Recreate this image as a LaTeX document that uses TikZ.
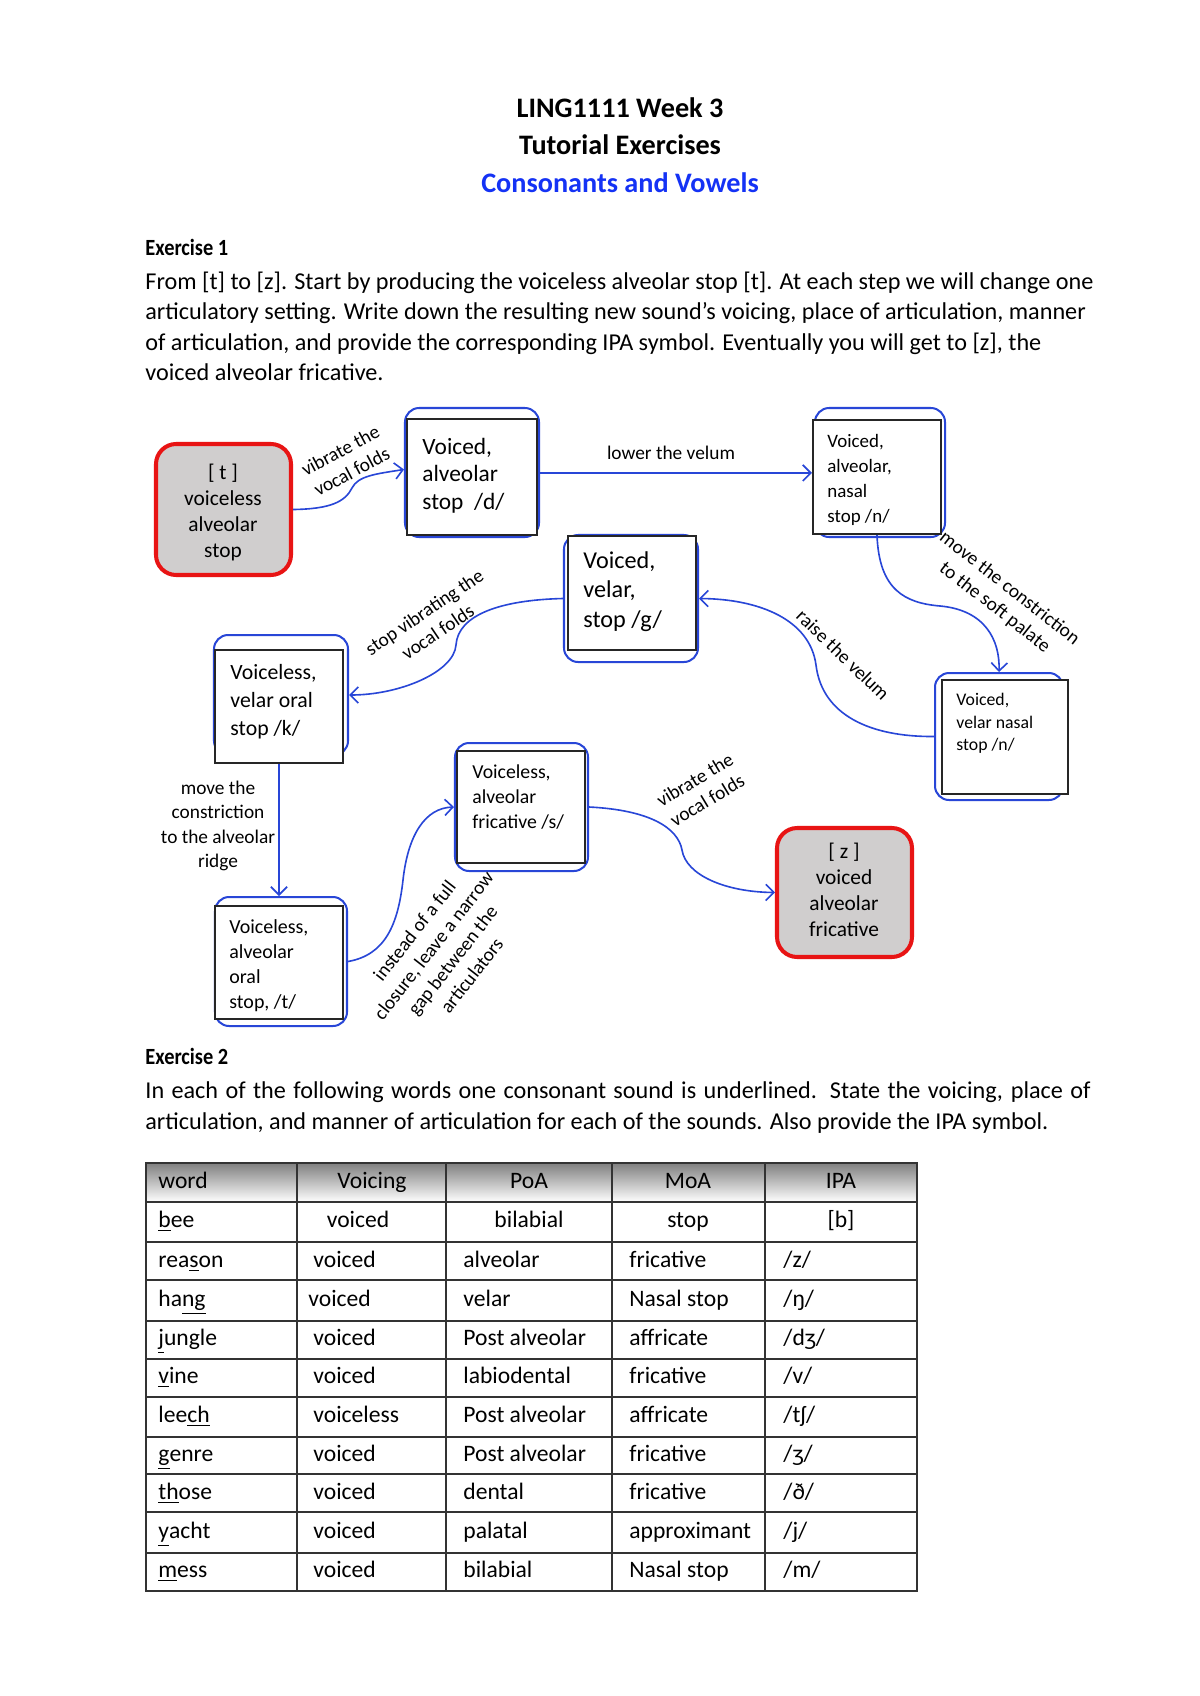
\documentclass[tikz,border=0pt]{standalone}
\usepackage{fontspec}
\usepackage{graphicx}
\setmainfont{Carlito}
\usetikzlibrary{arrows.meta,fit}
\definecolor{boxblue}{RGB}{40,70,215}
\definecolor{linkblue}{RGB}{40,70,215}
\definecolor{titleblue}{RGB}{20,50,245}
\definecolor{shade}{RGB}{208,206,206}
\definecolor{redline}{RGB}{232,20,20}
\newcommand\fsz[2]{\fontsize{#1pt}{#2pt}\selectfont}
\newcommand\ltrow[7]{%
  \node[cell,anchor=west] (w#1) at (158,#2) {#3};
  \node[cell,anchor=west] (v#1) at (313,#2) {#4};
  \node[cell,anchor=west] (p#1) at (463,#2) {#5};
  \node[cell,anchor=west] (m#1) at (629,#2) {#6};
  \node[cell,anchor=west] (i#1) at (783,#2) {#7};}
\begin{document}
\begin{tikzpicture}[x=0.49607pt,y=-0.49607pt,
  blueround/.style={draw=boxblue, line width=1pt, rounded corners=7pt, inner sep=0pt},
  blackbox/.style={draw=black!85, line width=1pt, fill=white, inner sep=0pt},
  redbox/.style={draw=redline, line width=2pt, rounded corners=10pt, fill=shade, inner sep=0pt},
  link/.style={draw=linkblue, line width=0.8pt, -{Straight Barb[length=4pt,width=8pt]}},
  boxtext/.style={inner sep=0pt, anchor=north west, align=left},
  lbl/.style={inner sep=0pt, align=center, font=\fsz{9.6}{12}},
  txt/.style={inner sep=0pt, text height=0.68em, text depth=0.2em},
  para/.style={txt, anchor=west, font=\fsz{12}{14}},
  head/.style={txt, anchor=west, font=\bfseries\fsz{11.5}{14}},
  cell/.style={txt, font=\fsz{11.7}{14}},
  tableline/.style={draw=black!80, line width=0.8pt}]
\fill[white] (0,0) rectangle (1200,1696);
\useasboundingbox (0,0) rectangle (1200,1696);

% ---- heading
\node[txt, font=\bfseries\fsz{14}{17}] (title1) at (620,113) {LING1111 Week 3};
\node[txt, font=\bfseries\fsz{14}{17}] (title2) at (620,150) {Tutorial Exercises};
\node[txt, font=\bfseries\fsz{14}{17}, text=titleblue] (title3) at (620,188) {Consonants and Vowels};

\node[head] (ex1) at (145,251) {\scalebox{0.88}[1]{Exercise 1}};
\node[para] (p1) at (145,285) {From [t] to [z]. Start by producing the voiceless alveolar stop [t]. At each step we will change one};
\node[para] (p2) at (145,315) {articulatory setting. Write down the resulting new sound’s voicing, place of articulation, manner};
\node[para] (p3) at (145,345.5) {of articulation, and provide the corresponding IPA symbol. Eventually you will get to [z], the};
\node[para] (p4) at (145,376) {voiced alveolar fricative.};

% ---- diagram boxes
\node[redbox, fit={(156,444) (291,575)}] (t) {};
\node[boxtext, anchor=north, align=center, font=\fsz{10.6}{12.9}] (ttxt) at (223,463.8) {[ t ]\\voiceless\\alveolar\\stop};

\node[blueround, fit={(405,408) (539,537)}] (dB) {};
\node[blackbox, fit={(407,419) (537,535)}] (d) {};
\node[boxtext, font=\fsz{11.6}{13.6}] (dtxt) at (422,437.6) {Voiced,\\alveolar\\stop\ \ /d/};

\node[blueround, fit={(815,408) (945,537)}] (anB) {};
\node[blackbox, fit={(813,420) (941,534)}] (an) {};
\node[boxtext, font=\fsz{9.4}{12.4}] (antxt) at (827,434.4) {Voiced,\\alveolar,\\nasal\\stop /n/};

\node[blueround, fit={(564,535) (698,662)}] (gB) {};
\node[blackbox, fit={(568,536) (696,650)}] (g) {};
\node[boxtext, font=\fsz{12}{14.6}] (gtxt) at (583,551.3) {Voiced,\\velar,\\stop /g/};

\node[blueround, fit={(935,673) (1063,800)}] (vnB) {};
\node[blackbox, fit={(942,680) (1068,794)}] (vn) {};
\node[boxtext, font=\fsz{8.8}{11.2}] (vntxt) at (956,692.9) {Voiced,\\velar nasal\\stop /n/};

\node[blueround, fit={(214,635) (348,755)}] (kB) {};
\node[blackbox, fit={(215,650) (343,763)}] (k) {};
\node[boxtext, font=\fsz{10.8}{13.9}] (ktxt) at (230,664.3) {Voiceless,\\velar oral\\stop /k/};

\node[blueround, fit={(215,897) (347,1026)}] (tvB) {};
\node[blackbox, fit={(215,906) (343,1019)}] (tv) {};
\node[boxtext, font=\fsz{9.9}{12.5}] (tvtxt) at (229,919) {Voiceless,\\alveolar\\oral\\stop, /t/};

\node[blueround, fit={(455,743) (588,871)}] (sB) {};
\node[blackbox, fit={(457,751) (585,863)}] (s) {};
\node[boxtext, font=\fsz{9.8}{12.4}] (stxt) at (472,764) {Voiceless,\\alveolar\\fricative /s/};

\node[redbox, fit={(777,828) (912,957)}] (z) {};
\node[boxtext, anchor=north, align=center, font=\fsz{10.6}{12.9}] (ztxt) at (844,842.8) {[ z ]\\voiced\\alveolar\\fricative};

% ---- connectors
\draw[link] (t.east) .. controls (330,509) and (345,502) .. (352,488)
  .. controls (358,476) and (375,474) .. ([yshift=1.5pt]dB.west);
\draw[link] ([yshift=2pt]d.east) -- ([yshift=2pt]an.west);
\draw[link] (an.south) .. controls (879,590) and (905,603) .. (940,606)
  .. controls (985,610) and (1000,640) .. (vnB.north);
\draw[link] (vnB.west) .. controls (870,737) and (822,715) .. (816,665)
  .. controls (810,620) and (760,599) .. (gB.east);
\draw[link] (gB.west) .. controls (500,600) and (458,615) .. (456,645)
  .. controls (454,672) and (400,695) .. (kB.east);
\draw[link] (k.south) -- (k.south |- tvB.north);
\draw[link] (tvB.east) .. controls (385,955) and (398,925) .. (403,880)
  .. controls (408,835) and (425,808) .. (sB.west);
\draw[link] (sB.east) .. controls (650,810) and (678,828) .. (682,850)
  .. controls (686,875) and (725,892) .. (z.west);

% ---- connector labels
\node[lbl, rotate=28] (l1) at (346,461) {vibrate the\\vocal folds};
\node[lbl] (l2) at (671,453) {lower the velum};
\node[lbl, rotate=-38] (l3) at (1002,598) {move the constriction\\to the soft palate};
\node[lbl, rotate=-44] (l4) at (843,655) {raise the velum};
\node[lbl, rotate=34] (l5) at (431,622) {stop vibrating the\\vocal folds};
\node[lbl] (l6) at (218,826) {move the\\constriction\\to the alveolar\\ridge};
\node[lbl, rotate=52] (l7) at (443,953) {instead of a full\\closure, leave a narrow\\gap between the\\articulators};
\node[lbl, rotate=31] (l8) at (701,790) {vibrate the\\vocal folds};

% ---- exercise 2
\node[head] (ex2) at (145,1060) {\scalebox{0.88}[1]{Exercise 2}};
\node[para] (q1) at (145,1094) {\makebox[469pt][s]{In each of the following words one consonant sound is underlined. State the voicing, place of}};
\node[para] (q2) at (145,1125) {articulation, and manner of articulation for each of the sounds. Also provide the IPA symbol.};

% ---- table
\fill[shade] (146,1163) rectangle (917,1202);
\draw[tableline] (146,1163) rectangle (917,1591);
\foreach \x in {297,446,612,765} \draw[tableline] (\x,1163) -- (\x,1591);
\foreach \y in {1202,1242,1280,1321,1359,1397,1437,1474,1512,1553} \draw[tableline] (146,\y) -- (917,\y);

\node[cell,anchor=west] (h1) at (158,1184) {word};
\node[cell] (h2) at (372,1184) {Voicing};
\node[cell] (h3) at (529,1184) {PoA};
\node[cell] (h4) at (688,1184) {MoA};
\node[cell] (h5) at (841,1184) {IPA};

\node[cell,anchor=west] (w1) at (158,1223) {\underline{b}ee};
\node[cell] (v1) at (358,1223) {voiced};
\node[cell] (p1c) at (529,1223) {bilabial};
\node[cell] (m1) at (688,1223) {stop};
\node[cell] (i1) at (841,1223) {[b]};

\ltrow{2}{1262.5}{rea\underline{s}on}{voiced}{alveolar}{fricative}{/z/}
\node[cell,anchor=west] (w3) at (158,1301.5) {ha\underline{ng}};
\node[cell,anchor=west] (v3) at (308,1301.5) {voiced};
\node[cell,anchor=west] (p3c) at (463,1301.5) {velar};
\node[cell,anchor=west] (m3) at (629,1301.5) {Nasal stop};
\node[cell,anchor=west] (i3) at (783,1301.5) {/ŋ/};
\ltrow{4}{1341}{\underline{j}ungle}{voiced}{Post alveolar}{affricate}{/dʒ/}
\ltrow{5}{1379}{\underline{v}ine}{voiced}{labiodental}{fricative}{/v/}
\ltrow{6}{1418}{lee\underline{ch}}{voiceless}{Post alveolar}{affricate}{/tʃ/}
\ltrow{7}{1456.5}{\underline{g}enre}{voiced}{Post alveolar}{fricative}{/ʒ/}
\ltrow{8}{1494.5}{\underline{th}ose}{voiced}{dental}{fricative}{/ð/}
\ltrow{9}{1533.5}{\underline{y}acht}{voiced}{palatal}{approximant}{/j/}
\ltrow{10}{1573}{\underline{m}ess}{voiced}{bilabial}{Nasal stop}{/m/}
\end{tikzpicture}
\end{document}
